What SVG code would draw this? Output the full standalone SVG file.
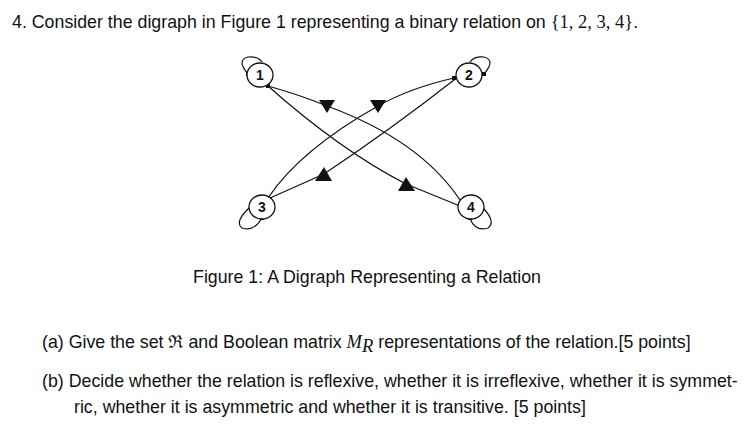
<svg xmlns="http://www.w3.org/2000/svg" width="751" height="442" viewBox="0 0 751 442">
<style>
.t{font-family:"Liberation Sans",Arial,sans-serif;font-size:17.8px;fill:#111}
.m{font-family:"Liberation Serif","DejaVu Serif",serif;font-size:18.5px}
.e{fill:none;stroke:#111;stroke-width:1.2}
.n{fill:#fff;stroke:#111;stroke-width:1.3}
.l{font-family:"Liberation Sans",Arial,sans-serif;font-size:14px;font-weight:bold;text-anchor:middle;fill:#111}
</style>
<rect width="751" height="442" fill="#fff"/>
<text class="t" x="12" y="28">4. Consider the digraph in Figure 1 representing a binary relation on <tspan class="m">{1, 2, 3, 4}</tspan>.</text>
<g id="connectors">
<path class="e" d="M268,86 Q300,95 327,106 Q420,140 460,200"/>
<path class="e" d="M268,86 Q340,150 406,184 L460,206"/>
<path class="e" d="M454,78 Q410,88 378,106 Q300,150 268,198"/>
<path class="e" d="M454,80 Q390,130 324,174 L270,198"/>
<path class="e" d="M248,74 Q236,60 248,57 Q258,56 262,62"/>
<path class="e" d="M484,74 Q496,60 484,57 Q474,56 470,62"/>
<path class="e" d="M250,207 Q234,222 242,228 Q254,232 262,218"/>
<path class="e" d="M484,209 Q496,222 488,228 Q476,232 470,219"/>
<g fill="#111">
<polygon points="319,100 335,100 327,113"/>
<polygon points="370,100 386,100 378,113"/>
<polygon points="315,181 332,181 324,167"/>
<polygon points="398,191 415,191 406,177"/>
<rect x="246" y="72" width="4" height="4"/><rect x="266" y="84" width="4" height="4"/>
<rect x="452" y="76" width="4" height="4"/><rect x="482" y="72" width="4" height="4"/>
<rect x="266" y="196" width="4" height="4"/><rect x="260" y="216" width="4" height="4"/>
<rect x="458" y="203" width="4" height="4"/><rect x="468" y="216" width="4" height="4"/>
</g>
</g>
<g id="n1"><ellipse class="n" cx="260" cy="75" rx="13" ry="12"/><text class="l" x="260" y="80">1</text></g>
<g id="n2"><ellipse class="n" cx="469" cy="75" rx="13" ry="12"/><text class="l" x="469" y="80">2</text></g>
<g id="n3"><ellipse class="n" cx="262" cy="207" rx="13" ry="12"/><text class="l" x="262" y="212">3</text></g>
<g id="n4"><ellipse class="n" cx="471" cy="207" rx="13" ry="12"/><text class="l" x="471" y="212">4</text></g>
<text class="t" x="367" y="283" text-anchor="middle">Figure 1: A Digraph Representing a Relation</text>
<text class="t" x="42" y="348">(a) Give the set ℜ and Boolean matrix <tspan class="m" font-style="italic">M</tspan><tspan class="m" font-style="italic" font-size="13" dy="4">R</tspan><tspan dy="-4"> representations of the relation.[5 points]</tspan></text>
<text class="t" x="42" y="387">(b) Decide whether the relation is reflexive, whether it is irreflexive, whether it is symmet-</text>
<text class="t" x="74" y="413">ric, whether it is asymmetric and whether it is transitive. [5 points]</text>
</svg>
